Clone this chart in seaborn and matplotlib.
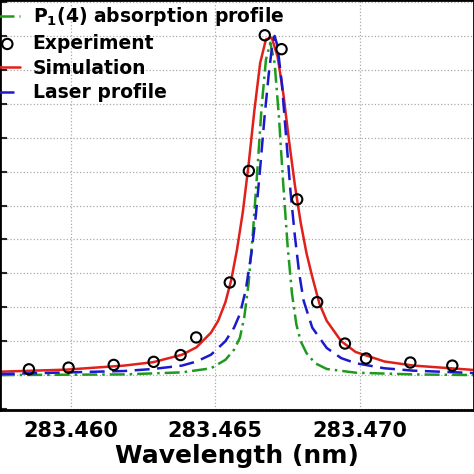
import matplotlib
matplotlib.use("Agg")
import matplotlib.pyplot as plt
import seaborn as sns
from matplotlib.ticker import MultipleLocator, FormatStrFormatter

# experiment points
exp_wl = [283.45856, 283.45993, 283.46149, 283.46287, 283.46380, 283.46434, 283.46550,
          283.46616, 283.46671, 283.46729, 283.46783, 283.46852, 283.46948, 283.47021,
          283.47174, 283.47319]
exp_int = [0.017, 0.022, 0.030, 0.039, 0.059, 0.111, 0.273, 0.602, 1.002, 0.961,
           0.518, 0.215, 0.093, 0.049, 0.037, 0.028]

# curves: offsets from line centre (1e-3 nm) and intensities
center = 283.46685
sim_off = [-9.3, -7, -5, -4, -3, -2.5, -2, -1.75, -1.5, -1.3, -1.1, -0.9, -0.7, -0.5,
           -0.3, -0.1, 0.1, 0.3, 0.5, 0.7, 0.9, 1.1, 1.3, 1.5, 1.75, 2, 2.5, 3, 4, 5, 7.1]
sim_int = [0.010, 0.016, 0.028, 0.038, 0.060, 0.082, 0.125, 0.16, 0.215, 0.28, 0.37,
           0.48, 0.62, 0.78, 0.92, 0.99, 0.995, 0.94, 0.83, 0.69, 0.56, 0.45, 0.36, 0.29,
           0.21, 0.16, 0.10, 0.068, 0.040, 0.028, 0.015]

abs_off = [-9.3, -5, -3, -2, -1.5, -1.2, -1, -0.85, -0.7, -0.55, -0.4, -0.25, -0.1, 0.05,
           0.2, 0.35, 0.5, 0.65, 0.8, 0.95, 1.1, 1.3, 1.6, 2, 3, 5, 7.1]
abs_int = [0.0, 0.002, 0.008, 0.02, 0.045, 0.075, 0.11, 0.17, 0.27, 0.42, 0.6, 0.79,
           0.93, 0.98, 0.92, 0.76, 0.56, 0.38, 0.24, 0.15, 0.10, 0.065, 0.035, 0.018,
           0.007, 0.002, 0.0]

las_off = [-9.3, -5, -4, -3, -2.5, -2, -1.5, -1.2, -1, -0.8, -0.6, -0.45, -0.3, -0.15,
           0, 0.1, 0.2, 0.3, 0.45, 0.6, 0.75, 0.9, 1.05, 1.2, 1.5, 2, 2.5, 3, 4, 5, 7.1]
las_int = [0.003, 0.012, 0.018, 0.028, 0.04, 0.06, 0.10, 0.14, 0.18, 0.25, 0.36, 0.47,
           0.61, 0.76, 0.89, 0.96, 1.0, 0.97, 0.86, 0.70, 0.54, 0.41, 0.30, 0.22, 0.14,
           0.08, 0.05, 0.035, 0.02, 0.013, 0.006]

sns.set_style("white")
plt.rcParams["font.family"] = ["DejaVu Sans"]
plt.rcParams["font.weight"] = "bold"
plt.rcParams["text.color"] = "black"

fig = plt.figure(figsize=(4.74, 4.74), dpi=100)
ax = fig.add_axes([0.0, 0.135, 1.0, 0.865])

to_wl = lambda offs: [center + o * 1e-3 for o in offs]

sns.lineplot(x=to_wl(abs_off), y=abs_int, ax=ax, color="#1f9a1f", lw=1.8,
             linestyle=(0, (6, 2, 1, 2)), sort=False, label="P$_1$(4) absorption profile")
sns.scatterplot(x=exp_wl, y=exp_int, ax=ax, marker="o", s=55, facecolors="none",
                edgecolor="black", linewidth=1.5, label="Experiment", zorder=5)
sns.lineplot(x=to_wl(sim_off), y=sim_int, ax=ax, color="#e0201b", lw=1.8,
             sort=False, label="Simulation")
sns.lineplot(x=to_wl(las_off), y=las_int, ax=ax, color="#1a1acc", lw=1.8,
             linestyle=(0, (6, 3)), sort=False, label="Laser profile")

ax.set_xlim(283.45756, 283.47394)
ax.set_ylim(-0.103, 1.106)
ax.xaxis.set_major_locator(MultipleLocator(0.005))
ax.xaxis.set_minor_locator(MultipleLocator(0.0025))
ax.yaxis.set_major_locator(MultipleLocator(0.1))
ax.xaxis.set_major_formatter(FormatStrFormatter("%.3f"))
ax.set_yticklabels([])
ax.tick_params(axis="x", which="major", direction="in", length=6, width=1.5,
               labelsize=15, labelcolor="black", pad=8)
ax.tick_params(axis="x", which="minor", direction="in", length=4, width=1.5)
ax.tick_params(axis="y", direction="in", length=5, width=1.5, left=True)
ax.grid(True, which="major", color="#aaaaaa", linestyle=":", lw=0.9)
for s in ax.spines.values():
    s.set_linewidth(2)
    s.set_color("black")
ax.set_xlabel("Wavelength (nm)", fontsize=18, fontweight="bold", color="black", labelpad=2)
ax.set_ylabel("")

leg = ax.legend(loc="upper left", bbox_to_anchor=(-0.03, 1.01), frameon=False,
                fontsize=13.5, handlelength=1.3, handletextpad=0.7, labelspacing=0.3,
                borderaxespad=0.1)
for t in leg.get_texts():
    t.set_fontweight("bold")
    t.set_color("black")

fig.savefig("out.png", dpi=100)
